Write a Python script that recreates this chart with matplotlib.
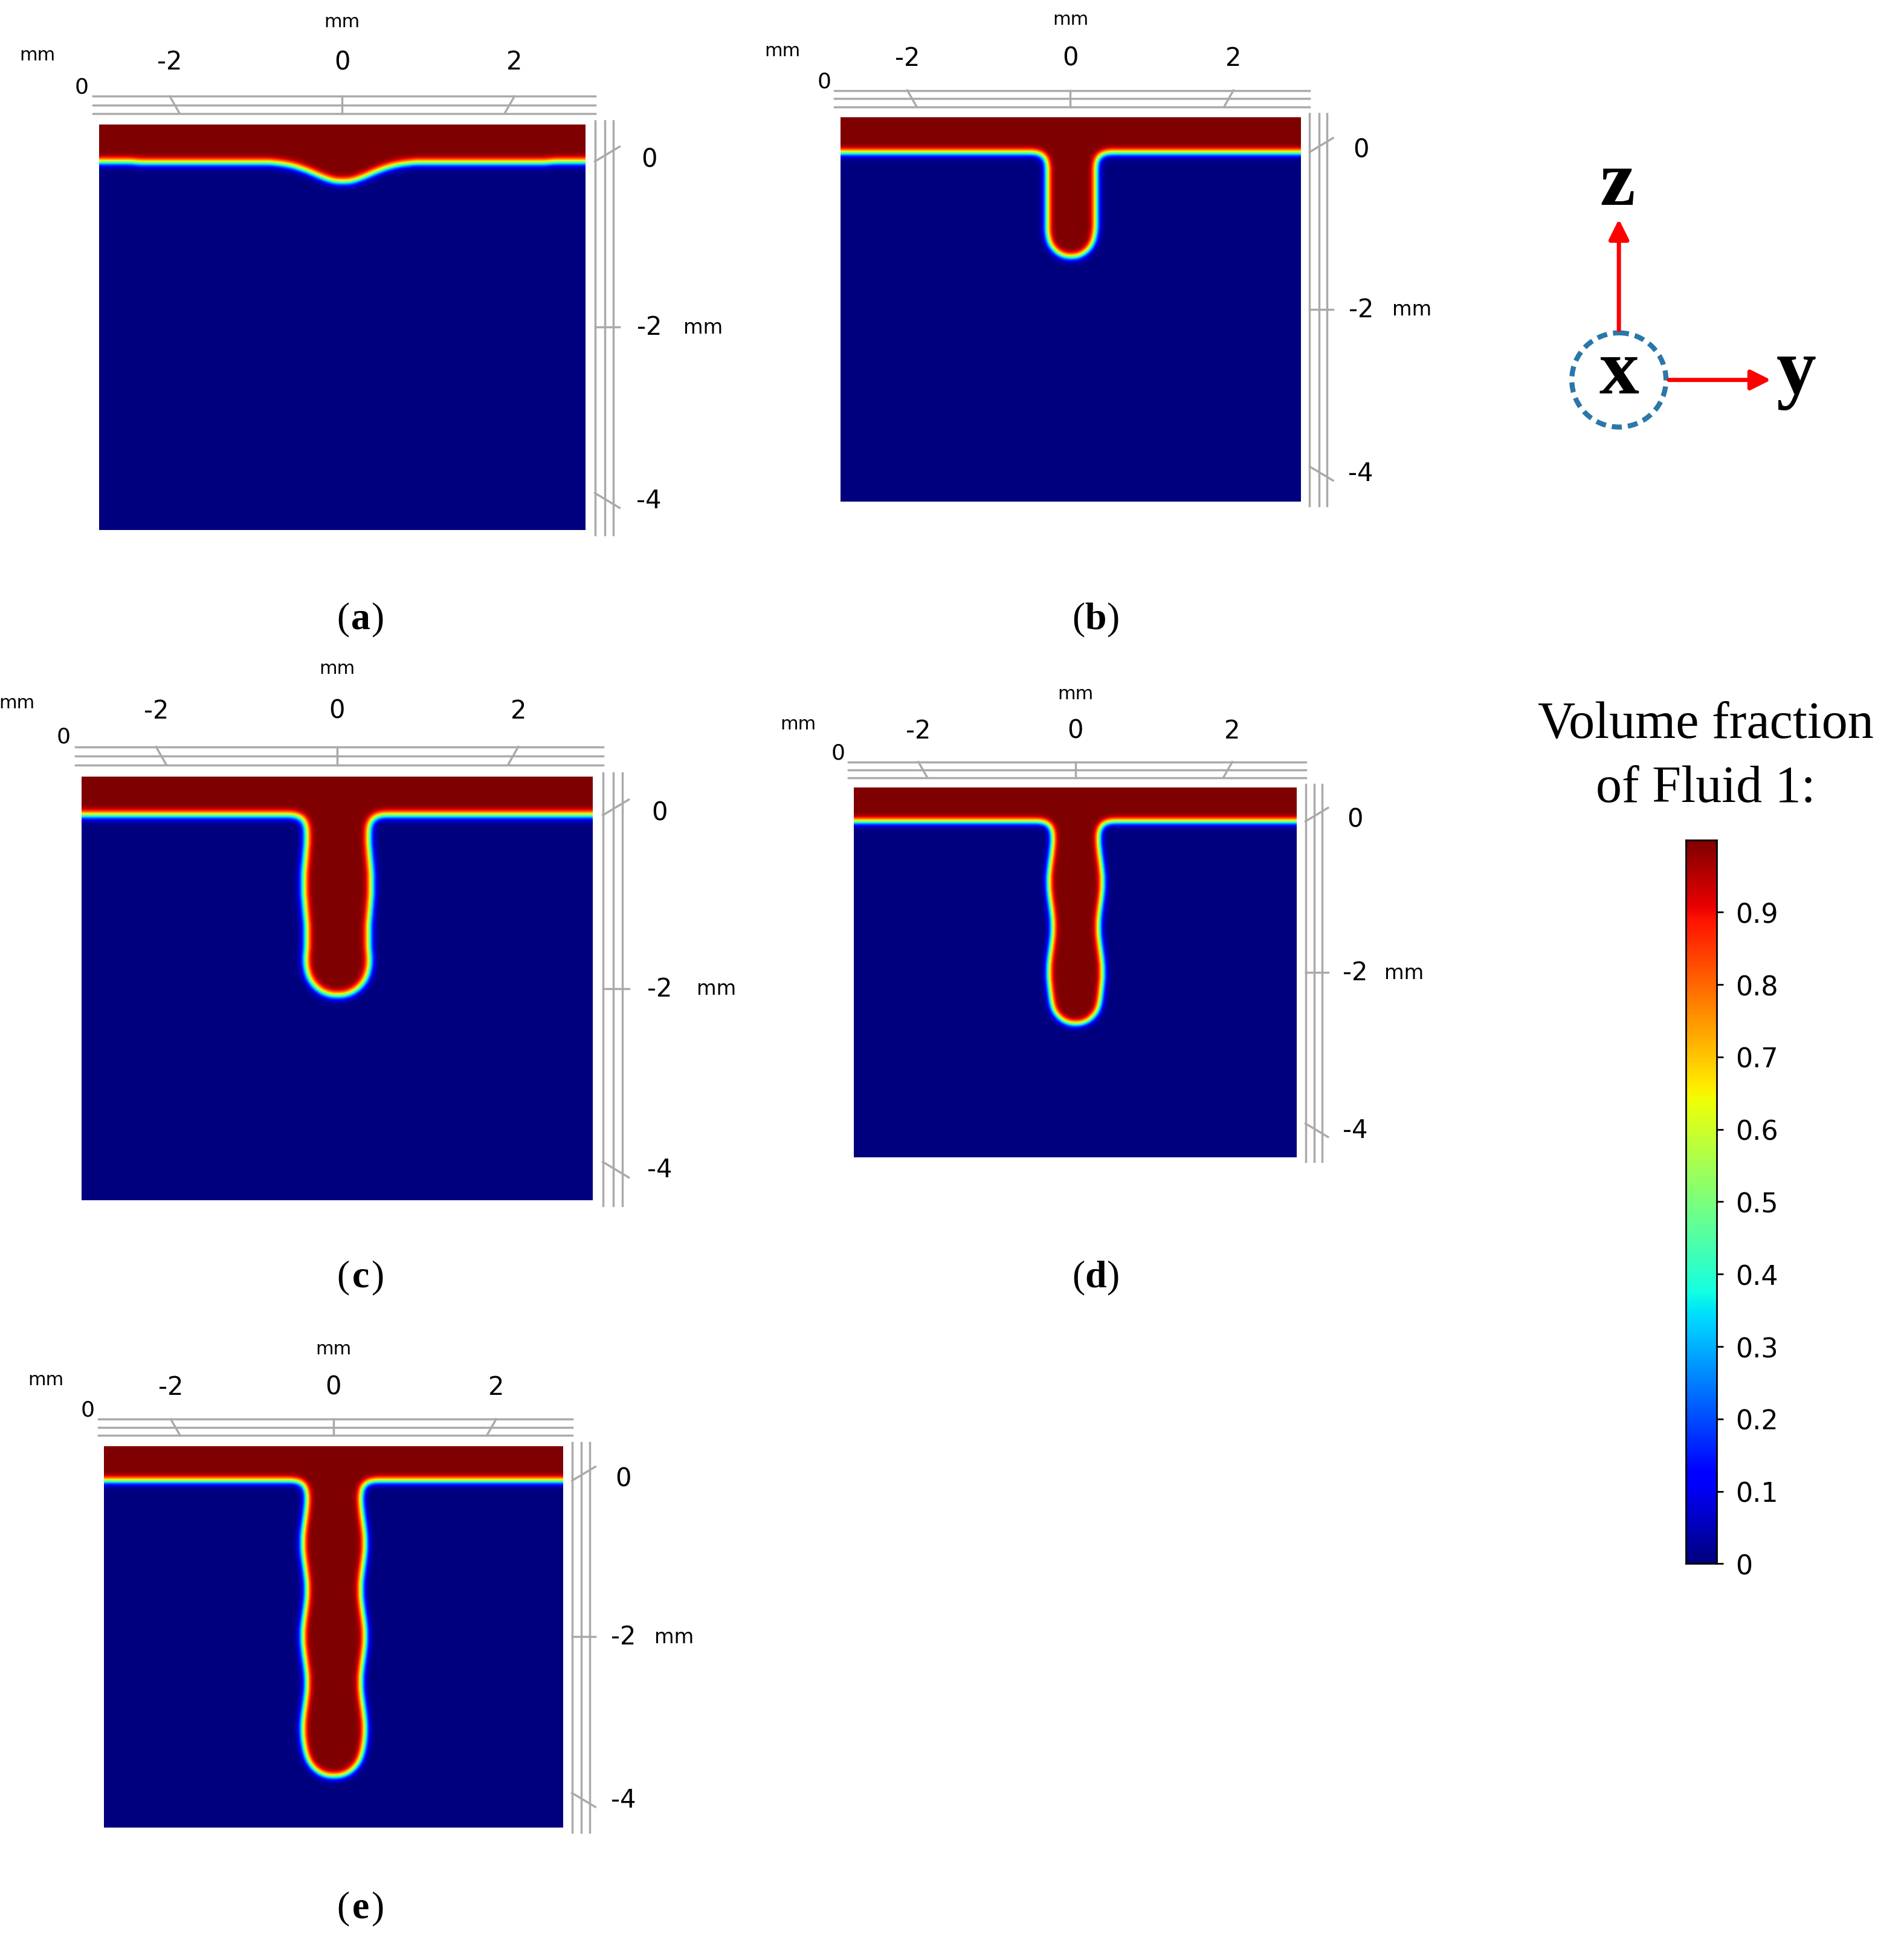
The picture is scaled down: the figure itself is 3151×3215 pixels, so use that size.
import numpy as np
import matplotlib
matplotlib.use("Agg")
import matplotlib.pyplot as plt
from matplotlib.patches import Circle

W, H = 1536, 1568
fig = plt.figure(figsize=(31.51, 32.16), dpi=100)

# data
labels = ["a", "b", "c", "d", "e"]
rects = [(80, 101, 472, 428), (678, 95, 1049, 405), (66, 627, 478, 969),
         (689, 636, 1046, 934), (84, 1167, 454, 1475)]
tip_depth = [-0.33, -1.38, -2.1, -2.67, -3.73]
half_width = [0.0, 0.30, 0.36, 0.32, 0.36]
wobble = [0.0, 0.0, 0.02, 0.03, 0.03]
ylim_mm = (-2.82, 2.82)
zlim_mm = (-4.34, 0.34)
z_interface = -0.10
cbar_ticks = [0, 0.1, 0.2, 0.3, 0.4, 0.5, 0.6, 0.7, 0.8, 0.9]

def blur(a, sig, dx):
    r = int(4 * sig / dx) + 1
    k = np.exp(-0.5 * (np.arange(-r, r + 1) * dx / sig) ** 2); k /= k.sum()
    p = np.pad(a, r, mode="edge")
    p = np.apply_along_axis(lambda v: np.convolve(v, k, mode="valid"), 0, p)
    p = np.apply_along_axis(lambda v: np.convolve(v, k, mode="valid"), 1, p)
    return p

def field(i):
    dx = 0.01
    y = np.arange(ylim_mm[0], ylim_mm[1], dx)
    z = np.arange(zlim_mm[0], zlim_mm[1], dx)
    Y, Z = np.meshgrid(y, z)
    if i == 0:
        surf = z_interface + (tip_depth[0] - z_interface) * np.exp(-(Y / 0.45) ** 2)
        m = (Z > surf).astype(float)
        return blur(m, 0.045, dx)
    w = half_width[i] + wobble[i] * np.sin(Z * 5.5)
    d = tip_depth[i]
    m = (Z > z_interface) | ((np.abs(Y) < w) & (Z > d + w)) | (Y ** 2 + (Z - d - half_width[i]) ** 2 < half_width[i] ** 2)
    m = blur(m.astype(float), 0.08, dx)
    m = (m > 0.5).astype(float)
    return blur(m, 0.045, dx)

ov = fig.add_axes([0, 0, 1, 1]); ov.set_xlim(0, W); ov.set_ylim(H, 0); ov.axis("off")
gray = "#aaaaaa"
for i, (l, t, r, b) in enumerate(rects):
    ax = fig.add_axes([l / W, 1 - b / H, (r - l) / W, (b - t) / H])
    ax.imshow(field(i), cmap="jet", vmin=0, vmax=1, origin="lower", aspect="auto",
              extent=[ylim_mm[0], ylim_mm[1], zlim_mm[0], zlim_mm[1]], interpolation="bilinear")
    ax.axis("off")
    sx = (r - l) / (ylim_mm[1] - ylim_mm[0])
    sz = (b - t) / (zlim_mm[1] - zlim_mm[0])
    s = sx / 70
    X = lambda v: l + (v - ylim_mm[0]) * sx
    Zp = lambda v: t + (zlim_mm[1] - v) * sz
    for off in (23, 16, 9):
        ov.plot([l - 5 * s, r + 8 * s], [t - off * s] * 2, color=gray, lw=2.5)
    for v in (-2, 0, 2):
        dxs = {-2: 8, 0: 0, 2: -8}[v] * s
        ov.plot([X(v), X(v) + dxs], [t - 23 * s, t - 9 * s], color=gray, lw=2.5)
        ov.text(X(v), t - 51 * s, f"{v}", ha="center", va="center", fontsize=30)
    ov.text(X(0), t - 84 * s, "mm", ha="center", va="center", fontsize=22)
    ov.text(l - 50 * s, t - 57 * s, "mm", ha="center", va="center", fontsize=22)
    ov.text(l - 14 * s, t - 31 * s, "0", ha="center", va="center", fontsize=26)
    for off in (8, 16, 23):
        ov.plot([r + off * s] * 2, [t - 3 * s, b + 4 * s], color=gray, lw=2.5)
    for v in (0, -2, -4):
        if v == -2:
            ov.plot([r + 8 * s, r + 28 * s], [Zp(v), Zp(v)], color=gray, lw=2.5)
        elif v == 0:
            ov.plot([r + 8 * s, r + 28 * s], [Zp(v) + 6 * s, Zp(v) - 6 * s], color=gray, lw=2.5)
        else:
            ov.plot([r + 8 * s, r + 28 * s], [Zp(v) - 6 * s, Zp(v) + 6 * s], color=gray, lw=2.5)
        ov.text(r + 52 * s, Zp(v) + 4 * s * (v == 0), f"{v}", ha="center", va="center", fontsize=30)
    ov.text(r + 96 * s, Zp(-2), "mm", ha="center", va="center", fontsize=24)

lab_pos = [(291, 500), (884, 500), (291, 1031), (884, 1031), (291, 1540)]
for lab, (x, y) in zip(labels, lab_pos):
    ov.text(x - 9, y, "(", ha="right", va="center", fontsize=46, family="Liberation Serif")
    ov.text(x, y, lab, ha="center", va="center", fontsize=46, family="Liberation Serif", weight="bold")
    ov.text(x + 9, y, ")", ha="left", va="center", fontsize=46, family="Liberation Serif")

# coordinate icon
ov.add_patch(Circle((1306, 307), 38, fill=False, ec="#2a78a8", lw=6, ls=(0, (2, 1.2))))
ov.annotate("", xy=(1306, 176), xytext=(1306, 268), arrowprops=dict(arrowstyle="-|>", color="red", lw=5, mutation_scale=50))
ov.annotate("", xy=(1430, 307), xytext=(1345, 307), arrowprops=dict(arrowstyle="-|>", color="red", lw=5, mutation_scale=50))
ov.text(1305, 150, "z", ha="center", va="center", fontsize=95, family="Liberation Serif", weight="bold")
ov.text(1306, 302, "x", ha="center", va="center", fontsize=95, family="Liberation Serif", weight="bold")
ov.text(1449, 302, "y", ha="center", va="center", fontsize=95, family="Liberation Serif", weight="bold")

# colorbar
ov.text(1376, 585, "Volume fraction", ha="center", va="center", fontsize=62, family="Liberation Serif")
ov.text(1376, 637, "of Fluid 1:", ha="center", va="center", fontsize=62, family="Liberation Serif")
cax = fig.add_axes([1360 / W, 1 - 1262 / H, 25 / W, (1262 - 678) / H])
grad = np.linspace(0, 1, 256).reshape(-1, 1)
cax.imshow(grad, cmap="jet", origin="lower", aspect="auto", extent=[0, 1, 0, 1.0])
cax.set_xticks([])
cax.yaxis.tick_right()
cax.set_yticks(cbar_ticks)
cax.set_yticklabels([f"{v:g}" for v in cbar_ticks], fontsize=32)
cax.tick_params(axis="y", length=8, width=2, pad=14)
for sp in cax.spines.values():
    sp.set_linewidth(2)

fig.savefig("out.png", dpi=100)
